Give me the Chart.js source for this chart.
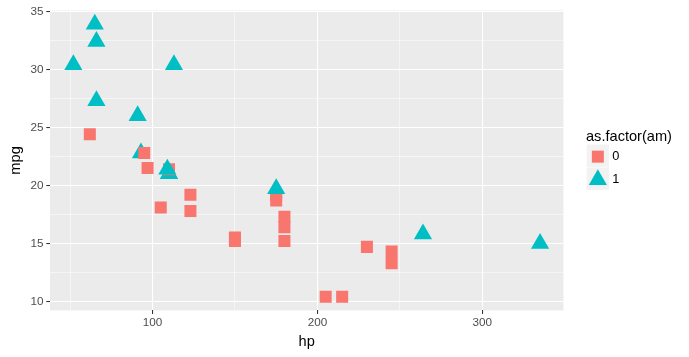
<!DOCTYPE html>
<html>
<head>
<meta charset="utf-8">
<script src="https://cdn.jsdelivr.net/npm/chart.js@4/dist/chart.umd.min.js"></script>
<style>
html,body{margin:0;padding:0;background:#fff;}
#wrap{width:689px;height:357px;position:relative;}
</style>
</head>
<body>
<div id="wrap"><canvas id="c" width="689" height="357"></canvas></div>
<script>
// mtcars: horsepower, miles per gallon, transmission (0 = automatic, 1 = manual), in row order
const hp  = [110,110,93,110,175,105,245,62,95,123,123,180,180,180,205,215,230,66,52,65,97,150,150,245,175,66,91,113,264,175,335,109];
const mpg = [21,21,22.8,21.4,18.7,18.1,14.3,24.4,22.8,19.2,17.8,16.4,17.3,15.2,10.4,10.4,14.7,32.4,30.4,33.9,21.5,15.5,15.2,13.3,19.2,27.3,26,30.4,15.8,19.7,15,21.4];
const am  = [1,1,1,0,0,0,0,0,0,0,0,0,0,0,0,0,0,1,1,1,0,0,0,0,0,1,1,1,1,1,1,1];

const amLevels = ['0','1'];
const legendTitle = 'as.factor(am)';
const xTitle = 'hp';
const yTitle = 'mpg';
const xMajor = [100,200,300];
const xMinor = [50,150,250];
const yMajor = [10,15,20,25,30,35];
const yMinor = [12.5,17.5,22.5,27.5,32.5];

const levelColors = ['#F8766D','#00BFC4'];
const levelShapes = ['rect','triangle'];
const levelRadius = [8.5,10.5];

const FONT = "'Liberation Sans', Arial, sans-serif";

function expand(arr){
  const lo = Math.min(...arr), hi = Math.max(...arr), d = (hi-lo)*0.05;
  return [lo-d, hi+d];
}
const [xMin,xMax] = expand(hp);
const [yMin,yMax] = expand(mpg);

const points = hp.map((h,i)=>({x:h, y:mpg[i]}));

const panelBg = {
  id:'panelBg',
  beforeDraw(chart){
    const {ctx, chartArea:a} = chart;
    ctx.save();
    ctx.fillStyle = '#EBEBEB';
    ctx.fillRect(a.left, a.top, a.right-a.left, a.bottom-a.top);
    ctx.restore();
  }
};

const legendPlugin = {
  id:'ggLegend',
  afterDraw(chart){
    const ctx = chart.ctx;
    ctx.save();
    ctx.fillStyle = '#000';
    ctx.font = '14.6px ' + FONT;
    ctx.textBaseline = 'alphabetic';
    ctx.textAlign = 'left';
    ctx.fillText(legendTitle, 586, 140.5);
    const keyX = 586.7, keyY0 = 144.5, keySize = 22.3, gap = 0.7;
    const symOffset = [1.0, 1.2];
    amLevels.forEach((lv,i)=>{
      const ky = keyY0 + i*(keySize+gap);
      ctx.fillStyle = '#F2F2F2';
      ctx.fillRect(keyX, ky, keySize, keySize);
      const cx = keyX + keySize/2, cy = ky + keySize/2;
      ctx.fillStyle = levelColors[i];
      Chart.helpers.drawPoint(ctx, {pointStyle: levelShapes[i], radius: levelRadius[i], rotation:0, borderWidth:0}, cx, cy + symOffset[i]);
      ctx.fillStyle = '#000';
      ctx.font = '12.8px ' + FONT;
      ctx.textBaseline = 'middle';
      ctx.fillText(lv, 612.3, cy + 1.3);
    });
    ctx.restore();
  }
};

function gridOpts(majors){
  return {
    color:'#FFFFFF',
    lineWidth: c => (c.tick && majors.includes(c.tick.value)) ? 1.07 : 0.53,
    drawTicks:true,
    tickLength:3.7,
    tickWidth:1.07,
    tickColor: c => (c.tick && majors.includes(c.tick.value)) ? '#333333' : 'rgba(0,0,0,0)'
  };
}

new Chart(document.getElementById('c'), {
  type:'scatter',
  data:{
    datasets:[{
      label: legendTitle,
      data: points,
      pointStyle: c => levelShapes[am[c.dataIndex]],
      pointRadius: c => levelRadius[am[c.dataIndex]],
      pointHoverRadius: c => levelRadius[am[c.dataIndex]],
      backgroundColor: c => levelColors[am[c.dataIndex]],
      borderWidth:0,
      pointBorderWidth:0
    }]
  },
  plugins:[panelBg, legendPlugin],
  options:{
    responsive:false,
    animation:false,
    devicePixelRatio:1,
    layout:{padding:{top:6.6, right:125.6, left:0, bottom:0}},
    plugins:{legend:{display:false}, tooltip:{enabled:false}},
    scales:{
      x:{
        type:'linear', min:xMin, max:xMax,
        afterBuildTicks: s => { s.ticks = [...xMinor, ...xMajor].sort((a,b)=>a-b).map(v=>({value:v})); },
        afterFit: s => { s.height = 46.6; },
        ticks:{
          callback: v => xMajor.includes(v) ? String(v) : '',
          color:'#4D4D4D', font:{size:11.7, family:FONT}, padding:2, maxRotation:0, autoSkip:false
        },
        grid: gridOpts(xMajor),
        border:{display:false},
        title:{display:true, text:xTitle, color:'#000', font:{size:14.6, family:FONT}, padding:{top:6.6, bottom:6.6}}
      },
      y:{
        type:'linear', min:yMin, max:yMax,
        afterBuildTicks: s => { s.ticks = [...yMinor, ...yMajor].sort((a,b)=>a-b).map(v=>({value:v})); },
        afterFit: s => { s.width = 50; },
        ticks:{
          callback: v => yMajor.includes(v) ? String(v) : '',
          color:'#4D4D4D', font:{size:11.7, family:FONT}, padding:2.7, autoSkip:false
        },
        grid: gridOpts(yMajor),
        border:{display:false},
        title:{display:true, text:yTitle, color:'#000', font:{size:14.6, family:FONT}, padding:{top:7, bottom:7}}
      }
    }
  }
});
</script>
</body>
</html>
